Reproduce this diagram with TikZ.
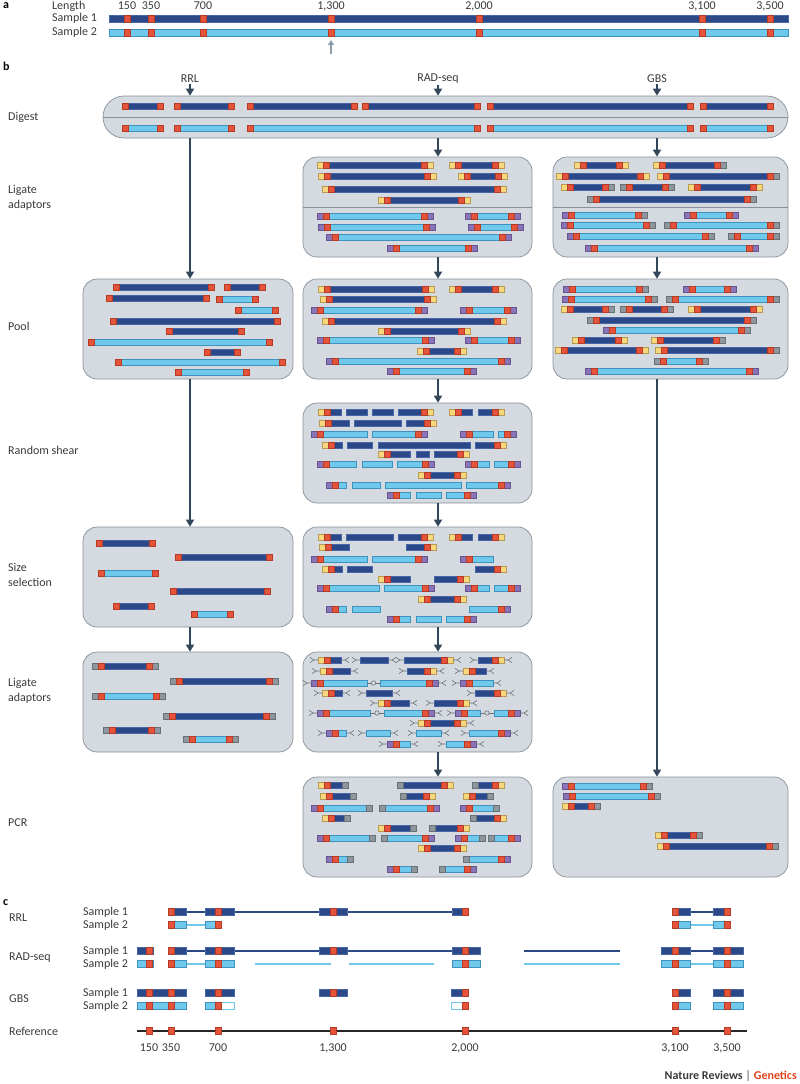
\documentclass[tikz,border=0pt]{standalone}
\usepackage{fontspec}
\setmainfont{Carlito}
\usetikzlibrary{arrows.meta,positioning}
\definecolor{FragDark}{HTML}{2B4888}
\definecolor{FragDarkEdge}{HTML}{4866A8}
\definecolor{FragLight}{HTML}{70C8EB}
\definecolor{FragLightEdge}{HTML}{3E92C0}
\definecolor{CutRed}{HTML}{E4543A}
\definecolor{CutRedEdge}{HTML}{B53B26}
\definecolor{AdYellow}{HTML}{F8D87C}
\definecolor{AdYellowEdge}{HTML}{B89A52}
\definecolor{AdPurple}{HTML}{8A73B7}
\definecolor{AdPurpleEdge}{HTML}{67558F}
\definecolor{AdGray}{HTML}{8E979E}
\definecolor{AdGrayEdge}{HTML}{697178}
\definecolor{StageFill}{HTML}{D4DADF}
\definecolor{StageEdge}{HTML}{85909A}
\definecolor{FlowArrow}{HTML}{33475A}
\definecolor{PointArrow}{HTML}{8C9CA8}
\definecolor{LabelText}{HTML}{3A3A3A}
\definecolor{NRRed}{HTML}{E2401C}

\tikzset{
  darkbar/.style={fill=FragDark, draw=FragDarkEdge, line width=0.4pt},
  lightbar/.style={fill=FragLight, draw=FragLightEdge, line width=0.4pt},
  cR/.style={fill=CutRed, draw=CutRedEdge, line width=0.3pt},
  cY/.style={fill=AdYellow, draw=AdYellowEdge, line width=0.3pt},
  cP/.style={fill=AdPurple, draw=AdPurpleEdge, line width=0.3pt},
  cG/.style={fill=AdGray, draw=AdGrayEdge, line width=0.3pt},
  cN/.style={draw=none, fill=none},
  stagebox/.style={fill=StageFill, draw=StageEdge, line width=0.7pt,
    rounded corners=14pt, inner sep=0pt},
  flow/.style={draw=FlowArrow, line width=1.7pt,
    -{Triangle[length=7pt,width=8pt]}},
  adline/.style={draw=AdGrayEdge, line width=0.6pt},
  rowlbl/.style={anchor=west, align=left, text=LabelText, inner sep=0pt},
  hdr/.style={text=LabelText, inner sep=1pt},
  panel/.style={anchor=west, font=\fontsize{12}{14}\selectfont\bfseries, inner sep=0pt},
  dklink/.style={draw=FragDark, line width=1.6pt},
  ltlink/.style={draw=FragLight, line width=1.6pt},
  ghost/.style={fill=white, draw=FragLight, line width=0.5pt},
  refline/.style={draw=black!85, line width=1.2pt},
}

% fragment: y, x1, x2, bar style, left caps (outer->inner), right caps (outer->inner)
\newcommand{\frag}[6]{%
  \path[#4] (#2,#1-2.9) rectangle (#3,#1+2.9);
  \foreach \capst [count=\ci from 0] in {#5} {\path[\capst] ({#2+6*\ci},#1-2.9) rectangle ++(6,5.8);}
  \foreach \capst [count=\ci from 1] in {#6} {\path[\capst] ({#3-6*\ci},#1-2.9) rectangle ++(6,5.8);}
}
\newcommand{\dkfrag}[5]{\frag{#1}{#2}{#3}{darkbar}{#4}{#5}}
\newcommand{\ltfrag}[5]{\frag{#1}{#2}{#3}{lightbar}{#4}{#5}}
% Y adaptors on sheared ends
\newcommand{\forkL}[2]{\draw[adline] (#1-8,#2-2.6) -- (#1-4,#2) -- (#1-8,#2+2.6) (#1-4,#2) -- (#1,#2);}
\newcommand{\forkR}[2]{\draw[adline] (#1+8,#2-2.6) -- (#1+4,#2) -- (#1+8,#2+2.6) (#1+4,#2) -- (#1,#2);}
\newcommand{\forks}[3]{\forkL{#2}{#1}\forkR{#3}{#1}}
\newcommand{\hairpin}[3]{%
  \draw[adline] (#2,#1) -- ({(#2+#3)/2-2.2},#1) ({(#2+#3)/2+2.2},#1) -- (#3,#1);
  \draw[adline] ({(#2+#3)/2},#1) circle[radius=2.2pt];}
% panel c
\newcommand{\cblocks}[3]{\foreach \a/\b in {#3} {\path[#2] (\a,#1-3.5) rectangle (\b,#1+3.5);}}
\newcommand{\clinks}[3]{\foreach \a/\b in {#3} {\draw[#2] (\a,#1) -- (\b,#1);}}
\newcommand{\cmarks}[2]{\foreach \m in {#2} {\path[cR] (\m-3,#1-3.5) rectangle (\m+3,#1+3.5);}}

\begin{document}
\begin{tikzpicture}[x=1pt, y=-1pt, font=\fontsize{12}{14.5}\selectfont]
  \useasboundingbox (0,0) rectangle (800,1084);

  % ---- a ----
  \node[panel] (pa) at (3,6) {a};
  \node[rowlbl] (len) at (52,6) {Length};
  \foreach \m/\t in {127/150,151/350,203/700,331/{1,300},479/{2,000},702/{3,100},770/{3,500}}
    \node[hdr] at (\m,6) {\t};
  \node[rowlbl] (sa1) at (52,18.5) {Sample 1};
  \node[rowlbl] (sa2) at (52,32.5) {Sample 2};
  \path[darkbar] (109,15) rectangle (788,22);
  \path[lightbar] (109,29) rectangle (788,36);
  \foreach \m in {127,151,203,331,479,702,770} {
    \path[cR] (\m-3,15) rectangle (\m+3,22);
    \path[cR] (\m-3,29) rectangle (\m+3,36);
  }
  \coordinate (upTail) at (331,54);
  \coordinate (upTip) at (331,40);
  \draw[draw=PointArrow, line width=1.5pt, -{Triangle[length=5pt,width=6pt]}] (upTail) -- (upTip);

  % ---- b ----
  \node[panel] (pb) at (3,66) {b};
  \coordinate (colA) at (190,0);
  \coordinate (colB) at (438,0);
  \coordinate (colC) at (657,0);
  \node[hdr] (hRRL) at (190,79) {RRL};
  \node[hdr] (hRAD) at (438,79) {RAD-seq};
  \node[hdr] (hGBS) at (657,79) {GBS};

  \node[rowlbl] (lDig) at (8,117) {Digest};
  \node[rowlbl] (lLig) at (8,198) {Ligate\\adaptors};
  \node[rowlbl] (lPool) at (8,326) {Pool};
  \node[rowlbl] (lShear) at (8,450) {Random shear};
  \node[rowlbl] (lSize) at (8,575) {Size\\selection};
  \node[rowlbl] (lLig2) at (8,691) {Ligate\\adaptors};
  \node[rowlbl] (lPCR) at (8,823) {PCR};

  \node[stagebox, rounded corners=21pt, minimum width=685pt, minimum height=42pt] (digest) at (445.5,117) {};
  \node[stagebox, minimum width=229pt, minimum height=100pt] (radlig) at (417.5,207) {};
  \node[stagebox, minimum width=235pt, minimum height=100pt] (gbslig) at (670.5,207) {};
  \node[stagebox, minimum width=210pt, minimum height=100pt] (rrlpool) at (188,329) {};
  \node[stagebox, minimum width=229pt, minimum height=100pt] (radpool) at (417.5,329) {};
  \node[stagebox, minimum width=235pt, minimum height=100pt] (gbspool) at (670.5,329) {};
  \node[stagebox, minimum width=229pt, minimum height=100pt] (radshear) at (417.5,453) {};
  \node[stagebox, minimum width=210pt, minimum height=100pt] (rrlsize) at (188,577) {};
  \node[stagebox, minimum width=229pt, minimum height=100pt] (radsize) at (417.5,577) {};
  \node[stagebox, minimum width=210pt, minimum height=100pt] (rrllig) at (188,702) {};
  \node[stagebox, minimum width=229pt, minimum height=100pt] (radlig2) at (417.5,702) {};
  \node[stagebox, minimum width=229pt, minimum height=100pt] (radpcr) at (417.5,827) {};
  \node[stagebox, minimum width=235pt, minimum height=100pt] (gbspcr) at (670.5,827) {};
  \draw[StageEdge, line width=0.7pt] (digest.west) -- (digest.east);
  \draw[StageEdge, line width=0.7pt] (radlig.west) -- (radlig.east);
  \draw[StageEdge, line width=0.7pt] (gbslig.west) -- (gbslig.east);

  \draw[flow] (hRRL.south) -- (hRRL.south |- digest.north);
  \draw[flow] (hRAD.south) -- (hRAD.south |- digest.north);
  \draw[flow] (hGBS.south) -- (hGBS.south |- digest.north);
  \draw[flow] (digest.south -| colA) -- (rrlpool.north -| colA);
  \draw[flow] (digest.south -| colB) -- (radlig.north -| colB);
  \draw[flow] (digest.south -| colC) -- (gbslig.north -| colC);
  \draw[flow] (radlig.south -| colB) -- (radpool.north -| colB);
  \draw[flow] (gbslig.south -| colC) -- (gbspool.north -| colC);
  \draw[flow] (rrlpool.south -| colA) -- (rrlsize.north -| colA);
  \draw[flow] (radpool.south -| colB) -- (radshear.north -| colB);
  \draw[flow] (radshear.south -| colB) -- (radsize.north -| colB);
  \draw[flow] (rrlsize.south -| colA) -- (rrllig.north -| colA);
  \draw[flow] (radsize.south -| colB) -- (radlig2.north -| colB);
  \draw[flow] (radlig2.south -| colB) -- (radpcr.north -| colB);
  \draw[flow] (gbspool.south -| colC) -- (gbspcr.north -| colC);

  % digest
  \foreach \a/\b in {122/163,174/234,247/357,362/480,487/693,700/773}
    {\dkfrag{106}{\a}{\b}{cR}{cR}}
  \foreach \a/\b in {122/163,174/234,247/480,487/693,700/773}
    {\ltfrag{128}{\a}{\b}{cR}{cR}}

  % RAD-seq ligate adaptors
  \dkfrag{165}{317}{433}{cY,cR}{cY,cR} \dkfrag{165}{449}{504}{cY,cR}{cY,cR}
  \dkfrag{176}{318}{436}{cY,cR}{cY,cR} \dkfrag{176}{458}{507}{cY,cR}{cY,cR}
  \dkfrag{189}{322}{506}{cY,cR}{cY,cR}
  \dkfrag{200}{378}{470}{cY,cR}{cY,cR}
  \ltfrag{216}{317}{433}{cP,cR}{cP,cR} \ltfrag{216}{465}{520}{cP,cR}{cP,cR}
  \ltfrag{227}{318}{435}{cP,cR}{cP,cR} \ltfrag{227}{468}{523}{cP,cR}{cP,cR}
  \ltfrag{237}{326}{511}{cP,cR}{cP,cR}
  \ltfrag{248}{387}{477}{cP,cR}{cP,cR}

  % GBS ligate adaptors
  \dkfrag{165}{574}{628}{cY,cR}{cY,cR} \dkfrag{165}{653}{726}{cY,cR}{cG,cR}
  \dkfrag{176}{556}{649}{cY,cR}{cY,cR} \dkfrag{176}{657}{779}{cY,cR}{cG,cR}
  \dkfrag{187}{561}{614}{cY,cR}{cG,cR} \dkfrag{187}{620}{674}{cG,cR}{cG,cR}
  \dkfrag{187}{688}{762}{cY,cR}{cY,cR}
  \dkfrag{199}{587}{756}{cG,cR}{cG,cR}
  \ltfrag{215}{562}{647}{cP,cR}{cG,cR} \ltfrag{215}{684}{738}{cP,cR}{cP,cR}
  \ltfrag{225}{561}{655}{cP,cR}{cG,cR} \ltfrag{225}{664}{779}{cG,cR}{cG,cR}
  \ltfrag{236}{567}{714}{cP,cR}{cG,cR} \ltfrag{236}{728}{779}{cG,cR}{cG,cR}
  \ltfrag{248}{585}{758}{cP,cR}{cP,cR}

  % RRL pool
  \dkfrag{287}{113}{214}{cR}{cR} \dkfrag{287}{224}{265}{cR}{cR}
  \dkfrag{298}{106}{209}{cR}{cR} \ltfrag{299}{216}{258}{cR}{cR}
  \ltfrag{310}{235}{278}{cR}{cR}
  \dkfrag{321}{110}{280}{cR}{cR}
  \dkfrag{331}{166}{244}{cR}{cR}
  \ltfrag{342}{88}{272}{cR}{cR}
  \dkfrag{352}{204}{240}{cR}{cR}
  \ltfrag{362}{115}{285}{cR}{cR}
  \ltfrag{372}{175}{249}{cR}{cR}

  % RAD-seq pool
  \dkfrag{289}{318}{434}{cY,cR}{cY,cR} \dkfrag{289}{449}{504}{cY,cR}{cY,cR}
  \dkfrag{299}{320}{436}{cY,cR}{cY,cR}
  \ltfrag{310}{311}{427}{cP,cR}{cP,cR} \ltfrag{310}{460}{516}{cP,cR}{cP,cR}
  \dkfrag{321}{322}{506}{cY,cR}{cY,cR}
  \dkfrag{331}{378}{470}{cY,cR}{cY,cR}
  \ltfrag{340}{317}{434}{cP,cR}{cP,cR} \ltfrag{340}{465}{520}{cP,cR}{cP,cR}
  \dkfrag{351}{417}{466}{cY,cR}{cY,cR}
  \ltfrag{361}{326}{510}{cP,cR}{cP,cR}
  \ltfrag{371}{387}{476}{cP,cR}{cP,cR}

  % GBS pool
  \ltfrag{289}{563}{648}{cP,cR}{cG,cR} \ltfrag{289}{683}{736}{cP,cR}{cP,cR}
  \ltfrag{299}{562}{657}{cP,cR}{cG,cR} \ltfrag{299}{666}{779}{cG,cR}{cG,cR}
  \dkfrag{309}{561}{614}{cY,cR}{cG,cR} \dkfrag{309}{620}{673}{cG,cR}{cG,cR}
  \dkfrag{309}{688}{762}{cY,cR}{cY,cR}
  \dkfrag{320}{587}{756}{cG,cR}{cG,cR}
  \ltfrag{330}{603}{750}{cP,cR}{cG,cR}
  \dkfrag{340}{572}{627}{cY,cR}{cY,cR} \dkfrag{340}{651}{725}{cY,cR}{cG,cR}
  \dkfrag{350}{555}{648}{cY,cR}{cY,cR} \dkfrag{350}{655}{779}{cY,cR}{cG,cR}
  \ltfrag{361}{654}{708}{cG,cR}{cG,cR}
  \ltfrag{371}{585}{758}{cP,cR}{cP,cR}

  % RAD-seq random shear
  \dkfrag{412}{318}{341}{cY,cR}{cN} \dkfrag{412}{346}{367}{cN}{cN}
  \dkfrag{412}{372}{393}{cN}{cN} \dkfrag{412}{398}{433}{cN}{cY,cR}
  \dkfrag{412}{449}{472}{cY,cR}{cN} \dkfrag{412}{478}{504}{cN}{cY,cR}
  \dkfrag{423}{319}{349}{cY,cR}{cN} \dkfrag{423}{354}{401}{cN}{cN}
  \dkfrag{423}{406}{436}{cN}{cY,cR}
  \ltfrag{434}{311}{367}{cP,cR}{cN} \ltfrag{434}{372}{427}{cN}{cP,cR}
  \ltfrag{434}{460}{493}{cP,cR}{cN} \ltfrag{434}{498}{516}{cN}{cP,cR}
  \dkfrag{445}{322}{342}{cY,cR}{cN} \dkfrag{445}{347}{372}{cN}{cN}
  \dkfrag{445}{378}{470}{cN}{cN} \dkfrag{445}{475}{506}{cN}{cY,cR}
  \dkfrag{454}{378}{410}{cY,cR}{cN} \dkfrag{454}{416}{429}{cN}{cN}
  \dkfrag{454}{434}{469}{cN}{cY,cR}
  \ltfrag{464}{317}{356}{cP,cR}{cN} \ltfrag{464}{362}{392}{cN}{cN}
  \ltfrag{464}{397}{434}{cN}{cP,cR} \ltfrag{464}{465}{489}{cP,cR}{cN}
  \ltfrag{464}{494}{520}{cN}{cP,cR}
  \dkfrag{475}{418}{466}{cY,cR}{cY,cR}
  \ltfrag{485}{326}{346}{cP,cR}{cN} \ltfrag{485}{352}{380}{cN}{cN}
  \ltfrag{485}{385}{461}{cN}{cN} \ltfrag{485}{466}{510}{cN}{cP,cR}
  \ltfrag{495}{387}{410}{cP,cR}{cN} \ltfrag{495}{416}{441}{cN}{cN}
  \ltfrag{495}{446}{476}{cN}{cP,cR}

  % RAD-seq size selection
  \dkfrag{537}{318}{341}{cY,cR}{cN} \dkfrag{537}{346}{393}{cN}{cN}
  \dkfrag{537}{398}{433}{cN}{cY,cR} \dkfrag{537}{449}{472}{cY,cR}{cN}
  \dkfrag{537}{478}{504}{cN}{cY,cR}
  \dkfrag{547}{319}{349}{cY,cR}{cN} \dkfrag{547}{406}{436}{cN}{cY,cR}
  \ltfrag{559}{311}{367}{cP,cR}{cN} \ltfrag{559}{372}{427}{cN}{cP,cR}
  \ltfrag{559}{460}{493}{cP,cR}{cN}
  \dkfrag{569}{322}{342}{cY,cR}{cN} \dkfrag{569}{347}{372}{cN}{cN}
  \dkfrag{569}{475}{506}{cN}{cY,cR}
  \dkfrag{579}{378}{410}{cY,cR}{cN} \dkfrag{579}{434}{469}{cN}{cY,cR}
  \ltfrag{588}{317}{379}{cP,cR}{cN} \ltfrag{588}{384}{434}{cN}{cP,cR}
  \ltfrag{588}{465}{489}{cP,cR}{cN} \ltfrag{588}{494}{520}{cN}{cP,cR}
  \dkfrag{599}{418}{466}{cY,cR}{cY,cR}
  \ltfrag{609}{326}{346}{cP,cR}{cN} \ltfrag{609}{352}{380}{cN}{cN}
  \ltfrag{609}{469}{510}{cN}{cP,cR}
  \ltfrag{619}{387}{410}{cP,cR}{cN} \ltfrag{619}{416}{441}{cN}{cN}
  \ltfrag{619}{446}{476}{cN}{cP,cR}

  % RRL size selection
  \dkfrag{543}{96}{155}{cR}{cR}
  \dkfrag{557}{175}{272}{cR}{cR}
  \ltfrag{573}{98}{158}{cR}{cR}
  \dkfrag{591}{170}{270}{cR}{cR}
  \dkfrag{606}{113}{154}{cR}{cR}
  \ltfrag{614}{191}{233}{cR}{cR}

  % RRL ligate adaptors
  \dkfrag{666}{92}{158}{cG,cR}{cG,cR}
  \dkfrag{681}{170}{278}{cG,cR}{cG,cR}
  \ltfrag{696}{92}{165}{cG,cR}{cG,cR}
  \dkfrag{716}{163}{275}{cG,cR}{cG,cR}
  \dkfrag{730}{103}{160}{cG,cR}{cG,cR}
  \ltfrag{739}{183}{238}{cG,cR}{cG,cR}

  % RAD-seq ligate adaptors (Y adaptors)
  \dkfrag{660}{318}{341}{cY,cR}{cN} \forks{660}{318}{341}
  \dkfrag{660}{360}{388}{cN}{cN} \forks{660}{360}{388}
  \dkfrag{660}{404}{453}{cN}{cY,cR} \forks{660}{404}{453}
  \dkfrag{660}{478}{504}{cN}{cY,cR} \forks{660}{478}{504}
  \dkfrag{671}{320}{350}{cY,cR}{cN} \forks{671}{320}{350}
  \dkfrag{671}{407}{436}{cN}{cY,cR} \forks{671}{407}{436}
  \dkfrag{671}{463}{486}{cY,cR}{cN} \forks{671}{463}{486}
  \ltfrag{683}{311}{367}{cP,cR}{cN} \forkL{311}{683}
  \hairpin{683}{367}{380}
  \ltfrag{683}{380}{438}{cN}{cP,cR} \forkR{438}{683}
  \ltfrag{683}{460}{493}{cP,cR}{cN} \forks{683}{460}{493}
  \dkfrag{693}{322}{342}{cY,cR}{cN} \forks{693}{322}{342}
  \dkfrag{693}{366}{392}{cN}{cN} \forks{693}{366}{392}
  \dkfrag{693}{475}{506}{cN}{cY,cR} \forks{693}{475}{506}
  \dkfrag{703}{378}{409}{cY,cR}{cN} \forks{703}{378}{409}
  \dkfrag{703}{434}{469}{cN}{cY,cR} \forks{703}{434}{469}
  \ltfrag{713}{317}{370}{cP,cR}{cN} \forkL{317}{713}
  \hairpin{713}{370}{384}
  \ltfrag{713}{384}{434}{cN}{cP,cR} \forkR{434}{713}
  \ltfrag{713}{455}{480}{cP,cR}{cN} \forkL{455}{713}
  \hairpin{713}{480}{494}
  \ltfrag{713}{494}{520}{cN}{cP,cR} \forkR{520}{713}
  \dkfrag{723}{418}{466}{cY,cR}{cY,cR} \forks{723}{418}{466}
  \ltfrag{733}{326}{346}{cP,cR}{cN} \forks{733}{326}{346}
  \ltfrag{733}{366}{390}{cN}{cN} \forks{733}{366}{390}
  \ltfrag{733}{416}{441}{cN}{cN} \forks{733}{416}{441}
  \ltfrag{733}{469}{510}{cN}{cP,cR} \forks{733}{469}{510}
  \ltfrag{744}{387}{410}{cP,cR}{cN} \forks{744}{387}{410}
  \ltfrag{744}{446}{476}{cN}{cP,cR} \forks{744}{446}{476}

  % RAD-seq PCR
  \dkfrag{785}{318}{348}{cY,cR}{cG} \dkfrag{785}{397}{453}{cG}{cY,cR}
  \dkfrag{785}{472}{504}{cG}{cY,cR}
  \dkfrag{796}{320}{356}{cY,cR}{cG} \dkfrag{796}{400}{435}{cG}{cY,cR}
  \dkfrag{796}{463}{493}{cY,cR}{cG}
  \ltfrag{808}{311}{372}{cP,cR}{cG} \ltfrag{808}{379}{439}{cG}{cP,cR}
  \ltfrag{808}{460}{499}{cP,cR}{cG}
  \dkfrag{818}{322}{350}{cY,cR}{cG} \dkfrag{818}{470}{506}{cG}{cY,cR}
  \dkfrag{828}{378}{416}{cY,cR}{cG} \dkfrag{828}{429}{469}{cG}{cY,cR}
  \ltfrag{838}{317}{375}{cP,cR}{cG} \ltfrag{838}{381}{434}{cG}{cP,cR}
  \ltfrag{838}{455}{485}{cP,cR}{cG} \ltfrag{838}{488}{520}{cG}{cP,cR}
  \dkfrag{848}{418}{466}{cY,cR}{cY,cR}
  \ltfrag{859}{326}{353}{cP,cR}{cG} \ltfrag{859}{463}{510}{cG}{cP,cR}
  \ltfrag{869}{387}{417}{cP,cR}{cG} \ltfrag{869}{439}{476}{cG}{cP,cR}

  % GBS PCR
  \ltfrag{786}{562}{652}{cP,cR}{cG,cR}
  \ltfrag{796}{563}{660}{cP,cR}{cG,cR}
  \dkfrag{806}{562}{600}{cY,cR}{cG,cR}
  \dkfrag{835}{655}{702}{cY,cR}{cG,cR}
  \dkfrag{846}{657}{778}{cY,cR}{cG,cR}

  % ---- c ----
  \node[panel] (pc) at (3,903) {c};
  \node[rowlbl] (cRRL) at (9,918) {RRL};
  \node[rowlbl] (cRAD) at (9,958) {RAD-seq};
  \node[rowlbl] (cGBS) at (9,999) {GBS};
  \node[rowlbl] (cRef) at (9,1031) {Reference};
  \foreach \yy/\s in {912/1,925/2,951/1,964/2,993/1,1006/2}
    \node[rowlbl] at (83,\yy) {Sample \s};

  % RRL
  \clinks{912}{dklink}{186/205,234/319,347/452,690/713}
  \cblocks{912}{darkbar}{168/186,205/234,319/347,452/468,672/690,713/730}
  \cmarks{912}{171,218,333,465,675,727}
  \clinks{925}{ltlink}{186/205,690/713}
  \cblocks{925}{lightbar}{168/186,205/221,672/690,713/730}
  \cmarks{925}{171,218,675,727}
  % RAD-seq
  \clinks{951}{dklink}{186/205,234/319,347/452,524/620,690/713}
  \cblocks{951}{darkbar}{137/153,168/186,205/234,319/347,452/480,661/690,713/743}
  \cmarks{951}{149,171,218,333,465,675,727}
  \clinks{964}{ltlink}{186/205,255/331,349/434,524/620,690/713}
  \cblocks{964}{lightbar}{137/153,168/186,205/234,452/480,661/690,713/743}
  \cmarks{964}{149,171,218,465,675,727}
  % GBS
  \cblocks{993}{darkbar}{137/186,205/234,319/347,451/468,672/690,713/743}
  \cmarks{993}{149,171,218,333,465,675,727}
  \cblocks{1006}{lightbar}{137/186,205/221,672/690,713/743}
  \cblocks{1006}{ghost}{221/234,451/462}
  \cmarks{1006}{149,171,218,465,675,727}
  % reference
  \coordinate (refL) at (137,1031);
  \coordinate (refR) at (747,1031);
  \draw[refline] (refL) -- (refR);
  \cmarks{1031}{149,171,218,333,465,675,727}
  \foreach \m/\t in {149/150,171/350,218/700,333/{1,300},465/{2,000},675/{3,100},727/{3,500}}
    \node[hdr] at (\m,1048) {\t};

  \node[anchor=east, inner sep=0pt, font=\fontsize{12}{14}\selectfont\bfseries] (credit) at (797,1076)
    {\textcolor{LabelText}{Nature Reviews} \textcolor{black!50}{|} \textcolor{NRRed}{Genetics}};
\end{tikzpicture}
\end{document}
